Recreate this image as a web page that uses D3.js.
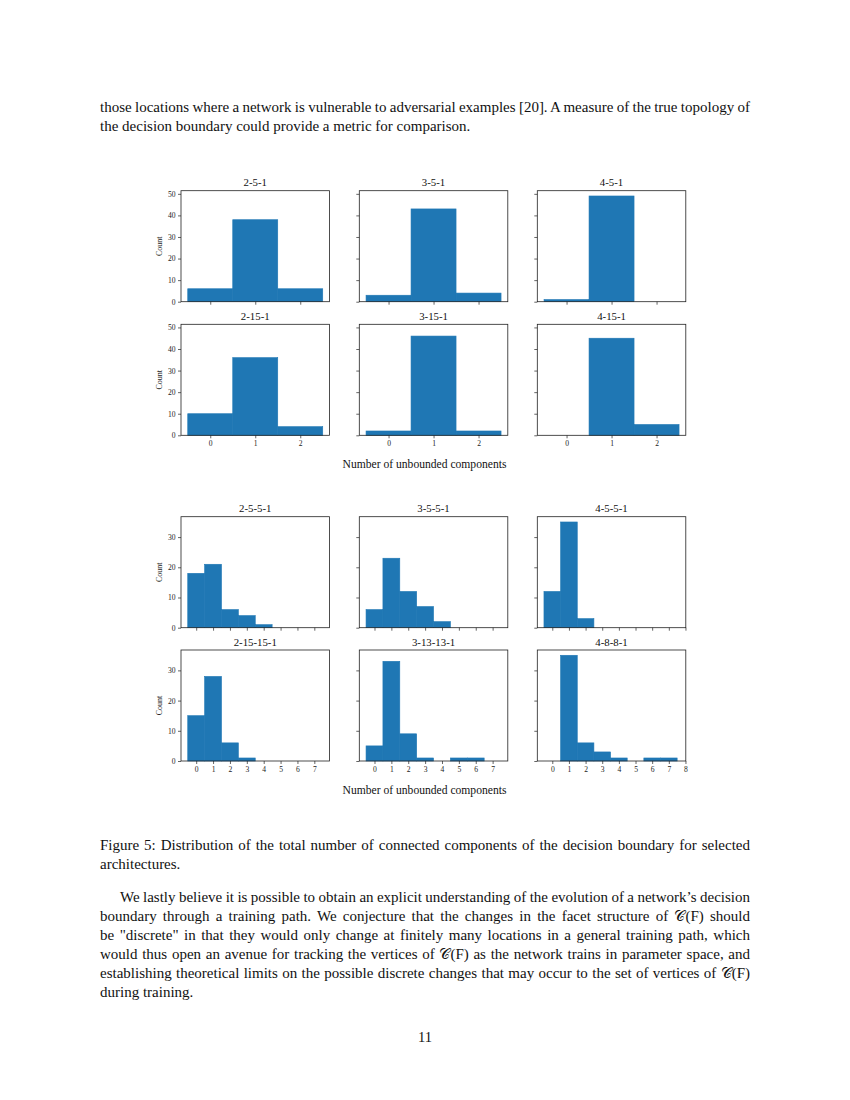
<!DOCTYPE html>
<html>
<head>
<meta charset="utf-8">
<script src="https://cdn.jsdelivr.net/npm/d3@7"></script>
<style>
  html, body { margin: 0; padding: 0; background: #fff; }
  #page { position: relative; width: 850px; height: 1100px; overflow: hidden; }
  svg { position: absolute; left: 0; top: 0; }
  .ln { position: absolute; left: 100px; font-family: "Liberation Serif", "DejaVu Serif", serif;
        font-size: 15px; line-height: 15px; color: #111; white-space: nowrap; }
</style>
</head>
<body>
<div id="page"></div>
<script>
// ---------------- DATA ----------------
const topCategories = [0, 1, 2];
const topTicks = [0, 1, 2];
const topYTicks = [0, 10, 20, 30, 40, 50];
const topTitles = ["2-5-1", "3-5-1", "4-5-1", "2-15-1", "3-15-1", "4-15-1"];
const counts_2_5_1  = [6, 38, 6];
const counts_3_5_1  = [3, 43, 4];
const counts_4_5_1  = [1, 49, 0];
const counts_2_15_1 = [10, 36, 4];
const counts_3_15_1 = [2, 46, 2];
const counts_4_15_1 = [0, 45, 5];

const bottomCategories = [0, 1, 2, 3, 4, 5, 6, 7];
const bottomTicksA = [0, 1, 2, 3, 4, 5, 6, 7];
const bottomTicksB = [0, 1, 2, 3, 4, 5, 6, 7, 8];
const bottomYTicks = [0, 10, 20, 30];
const bottomTitles = ["2-5-5-1", "3-5-5-1", "4-5-5-1", "2-15-15-1", "3-13-13-1", "4-8-8-1"];
const counts_2_5_5_1   = [18, 21, 6, 4, 1, 0, 0, 0];
const counts_3_5_5_1   = [6, 23, 12, 7, 2, 0, 0, 0];
const counts_4_5_5_1   = [12, 35, 3, 0, 0, 0, 0, 0];
const counts_2_15_15_1 = [15, 28, 6, 1, 0, 0, 0, 0];
const counts_3_13_13_1 = [5, 33, 9, 1, 0, 1, 1, 0];
const counts_4_8_8_1   = [0, 35, 6, 3, 1, 0, 1, 1];

const xLabel = "Number of unbounded components";
const yLabel = "Count";

const textTop = [
  "those locations where a network is vulnerable to adversarial examples [20]. A measure of the true topology of",
  "the decision boundary could provide a metric for comparison."
];
const textCaption = [
  "Figure 5: Distribution of the total number of connected components of the decision boundary for selected",
  "architectures."
];
const textPara = [
  "We lastly believe it is possible to obtain an explicit understanding of the evolution of a network\u2019s decision",
  "boundary through a training path. We conjecture that the changes in the facet structure of \uD835\uDC9E(F) should",
  "be \"discrete\" in that they would only change at finitely many locations in a general training path, which",
  "would thus open an avenue for tracking the vertices of \uD835\uDC9E(F) as the network trains in parameter space, and",
  "establishing theoretical limits on the possible discrete changes that may occur to the set of vertices of \uD835\uDC9E(F)",
  "during training."
];
const pageNumber = "11";

// ---------------- LAYOUT ----------------
const page = d3.select("#page");
const svg = page.append("svg").attr("width", 850).attr("height", 1100);
const BLUE = "#1f77b4";
const serif = "'Liberation Serif', 'DejaVu Serif', serif";
const colX = [181, 359.3, 537.3];
const pw = 148.5, ph = 111;

function panel(opts) {
  const { x0, y0, xDomain, yDomain, cats, vals, xTicks, yTicks, title, showYLabels, showXLabels, showYTitle } = opts;
  const g = svg.append("g").attr("transform", `translate(${x0},${y0})`);
  const x = d3.scaleLinear().domain(xDomain).range([0, pw]);
  const y = d3.scaleLinear().domain(yDomain).range([ph, 0]);

  g.selectAll("rect.bar").data(cats.map((c, i) => ({ c, v: vals[i] })).filter(d => d.v > 0))
    .join("rect").attr("class", "bar")
    .attr("x", d => x(d.c - 0.5)).attr("width", d => x(d.c + 0.5) - x(d.c - 0.5))
    .attr("y", d => y(d.v)).attr("height", d => y(0) - y(d.v))
    .attr("fill", BLUE).attr("stroke", BLUE).attr("stroke-width", 0.6);

  const ax = g.append("g").attr("transform", `translate(0,${ph})`)
    .call(d3.axisBottom(x).tickValues(xTicks).tickSize(3).tickPadding(2.5)
      .tickFormat(showXLabels ? d3.format("d") : () => ""));
  const ay = g.append("g")
    .call(d3.axisLeft(y).tickValues(yTicks).tickSize(3).tickPadding(2.5)
      .tickFormat(showYLabels ? d3.format("d") : () => ""));
  [ax, ay].forEach(a => {
    a.select(".domain").remove();
    a.selectAll("line").attr("stroke", "#222").attr("stroke-width", 0.7);
    a.selectAll("text").attr("font-family", serif).attr("font-size", 7.6).attr("fill", "#222");
  });

  g.append("rect").attr("x", 0).attr("y", 0).attr("width", pw).attr("height", ph)
    .attr("fill", "none").attr("stroke", "#222").attr("stroke-width", 0.8);

  g.append("text").attr("x", pw / 2).attr("y", -4.5).attr("text-anchor", "middle")
    .attr("font-family", serif).attr("font-size", 10.8).attr("fill", "#111").text(title);

  if (showYTitle) {
    g.append("text").attr("transform", `translate(-19.5,${ph / 2}) rotate(-90)`)
      .attr("text-anchor", "middle").attr("font-family", serif).attr("font-size", 8)
      .attr("fill", "#222").text(yLabel);
  }
}

// Top group
const topVals = [counts_2_5_1, counts_3_5_1, counts_4_5_1, counts_2_15_1, counts_3_15_1, counts_4_15_1];
const topRowY = [190.7, 324.3];
const topYMax = 49 * 1.05;
topVals.forEach((vals, i) => {
  const r = Math.floor(i / 3), c = i % 3;
  panel({
    x0: colX[c], y0: topRowY[r], xDomain: [-0.65, 2.65], yDomain: [0, topYMax],
    cats: topCategories, vals, xTicks: topTicks, yTicks: topYTicks, title: topTitles[i],
    showYLabels: c === 0, showXLabels: r === 1, showYTitle: c === 0
  });
});

// Bottom group
const botVals = [counts_2_5_5_1, counts_3_5_5_1, counts_4_5_5_1, counts_2_15_15_1, counts_3_13_13_1, counts_4_8_8_1];
const botRowY = [516.7, 650];
const botYMax = 35 * 1.05;
botVals.forEach((vals, i) => {
  const r = Math.floor(i / 3), c = i % 3;
  panel({
    x0: colX[c], y0: botRowY[r], xDomain: c === 2 ? [-0.9, 8.02] : [-0.9, 7.9], yDomain: [0, botYMax],
    cats: bottomCategories, vals, xTicks: c === 2 ? bottomTicksB : bottomTicksA, yTicks: bottomYTicks,
    title: bottomTitles[i], showYLabels: c === 0, showXLabels: r === 1, showYTitle: c === 0
  });
});

// x-axis labels
[468, 794].forEach(yy => {
  svg.append("text").attr("x", 424.5).attr("y", yy).attr("text-anchor", "middle")
    .attr("font-family", serif).attr("font-size", 11.6).attr("fill", "#111").text(xLabel);
});

// Body text: each full line is justified to 650px by adjusting word spacing
function lines(arr, top, step, indentFirst) {
  arr.forEach((t, i) => {
    const indent = indentFirst && i === 0 ? 20 : 0;
    const d = page.append("div").attr("class", "ln")
      .style("top", (top + i * step) + "px").style("left", (100 + indent) + "px").text(t);
    if (i < arr.length - 1) {
      const w = d.node().getBoundingClientRect().width;
      const spaces = (t.match(/ /g) || []).length;
      if (spaces > 0) d.style("word-spacing", ((650 - indent - w) / spaces) + "px");
    }
  });
}
lines(textTop, 99.5, 19, false);
lines(textCaption, 837.5, 19, false);
lines(textPara, 889.5, 19, true);

svg.append("text").attr("x", 425).attr("y", 1042).attr("text-anchor", "middle")
  .attr("font-family", serif).attr("font-size", 14.5).attr("fill", "#111").text(pageNumber);
</script>
</body>
</html>
